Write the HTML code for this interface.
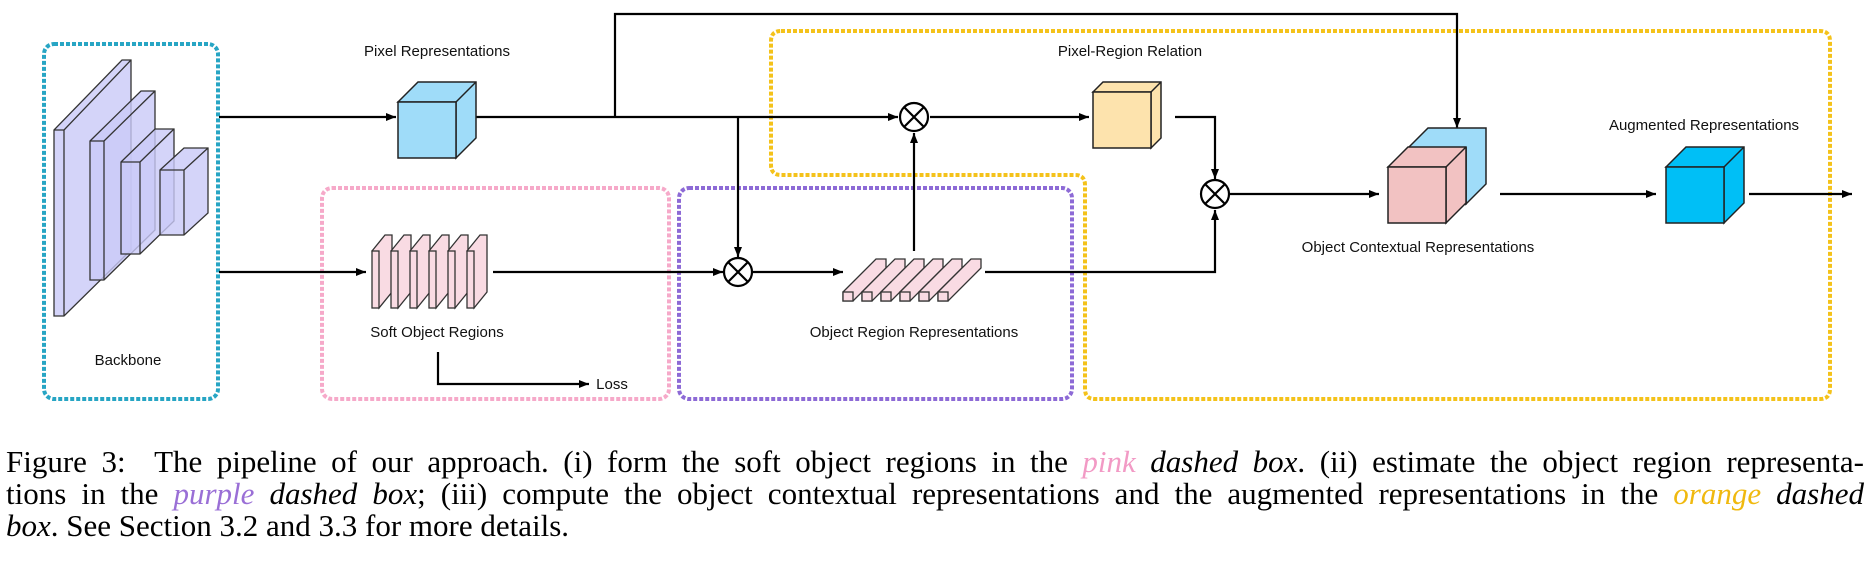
<!DOCTYPE html>
<html><head><meta charset="utf-8"><style>
html,body{margin:0;padding:0;background:#fff;width:1870px;height:579px;overflow:hidden}
svg{position:absolute;left:0;top:0}
.cap{position:absolute;left:6px;width:1858px;font-family:"Liberation Serif",serif;font-size:31px;line-height:32px;color:#000;white-space:nowrap}
.j{text-align:justify;text-align-last:justify}
</style></head><body>
<svg width="1870" height="440" viewBox="0 0 1870 440" font-family="Liberation Sans, sans-serif" font-size="15" fill="#111">
<defs><marker id="a" markerWidth="10" markerHeight="8" refX="10" refY="4" orient="auto" markerUnits="userSpaceOnUse"><path d="M0,0L10,4L0,8z" fill="#000"/></marker></defs>
<g fill="none" stroke-width="4" stroke-dasharray="4 2">
<rect x="44" y="44" width="174" height="355" rx="10" stroke="#27a5c4"/>
<rect x="322" y="188" width="347" height="211" rx="10" stroke="#f6a9c9"/>
<rect x="679" y="188" width="393" height="211" rx="10" stroke="#8d6ad6"/>
<path d="M781,31H1820Q1830,31 1830,41V389Q1830,399 1820,399H1095Q1085,399 1085,389V185Q1085,175 1075,175H781Q771,175 771,165V41Q771,31 781,31Z" stroke="#f4c21a"/>
</g>
<g stroke="#333" stroke-width="1.3" fill="#c9c9f7" fill-opacity="0.8">
<path d="M54,130L122,60H131V250L64,316H54Z"/><path d="M64,130L131,60M64,130V316M54,130H64"/>
<path d="M90,141L141,91H155V230L104,280H90Z"/><path d="M104,141L155,91M104,141V280M90,141H104"/>
<path d="M121,162L155,129H174V221L140,254H121Z"/><path d="M140,162L174,129M140,162V254M121,162H140"/>
<path d="M160,170L184,148H208V213L184,235H160Z"/><path d="M184,170L208,148M184,170V235M160,170H184"/>
</g>
<g stroke="#000" stroke-width="2.2" fill="none">
<path d="M219,117H396" marker-end="url(#a)"/>
<path d="M456,117H898" marker-end="url(#a)"/>
<path d="M615,117V14H1457V128" marker-end="url(#a)"/>
<path d="M738,117V257" marker-end="url(#a)"/>
<path d="M219,272H366" marker-end="url(#a)"/>
<path d="M493,272H723" marker-end="url(#a)"/>
<path d="M753,272H843" marker-end="url(#a)"/>
<path d="M914,251V133" marker-end="url(#a)"/>
<path d="M930,117H1089" marker-end="url(#a)"/>
<path d="M1175,117H1215V179" marker-end="url(#a)"/>
<path d="M985,272H1215V210" marker-end="url(#a)"/>
<path d="M1230,194H1379" marker-end="url(#a)"/>
<path d="M1500,194H1656" marker-end="url(#a)"/>
<path d="M1749,194H1852" marker-end="url(#a)"/>
<path d="M438,352V384H589" marker-end="url(#a)"/>
</g>
<g stroke="#000" stroke-width="2.2" fill="#fff">
<circle cx="914" cy="117" r="14"/><path d="M904,107L924,127M924,107L904,127"/>
<circle cx="738" cy="272" r="14"/><path d="M728,262L748,282M748,262L728,282"/>
<circle cx="1215" cy="194" r="14"/><path d="M1205,184L1225,204M1225,184L1205,204"/>
</g>
<g stroke="#222" stroke-width="1.5">
<path d="M398,102L418,82H476V138L456,158V102Z" fill="#9fdcf9"/><rect x="398" y="102" width="58" height="56" fill="#9fdcf9"/><path d="M456,102L476,82" fill="none"/>
<path d="M1093,92L1103,82H1161V138L1151,148V92Z" fill="#fde3ad"/><rect x="1093" y="92" width="58" height="56" fill="#fde3ad"/><path d="M1151,92L1161,82" fill="none"/>
<path d="M1408,148L1428,128H1486V184L1466,204V148Z" fill="#9fdcf9"/><rect x="1408" y="148" width="58" height="56" fill="#9fdcf9"/>
<path d="M1388,167L1408,147H1466V203L1446,223V167Z" fill="#f2c2c2"/><rect x="1388" y="167" width="58" height="56" fill="#f2c2c2"/><path d="M1446,167L1466,147" fill="none"/>
<path d="M1666,167L1686,147H1744V203L1724,223V167Z" fill="#00bff6"/><rect x="1666" y="167" width="58" height="56" fill="#00bff6"/><path d="M1724,167L1744,147" fill="none"/>
</g>
<g stroke="#333" stroke-width="1.3" fill="#f9dbe3">
<path d="M372,251L385,235H392V292L379,308Z"/><rect x="372" y="251" width="7" height="57"/>
<path d="M391,251L404,235H411V292L398,308Z"/><rect x="391" y="251" width="7" height="57"/>
<path d="M410,251L423,235H430V292L417,308Z"/><rect x="410" y="251" width="7" height="57"/>
<path d="M429,251L442,235H449V292L436,308Z"/><rect x="429" y="251" width="7" height="57"/>
<path d="M448,251L461,235H468V292L455,308Z"/><rect x="448" y="251" width="7" height="57"/>
<path d="M467,251L480,235H487V292L474,308Z"/><rect x="467" y="251" width="7" height="57"/>
</g>
<g stroke="#333" stroke-width="1.3" fill="#f9dbe3">
<path d="M843,292L876,259H886V268L853,301H843Z"/><rect x="843" y="292" width="10" height="9"/>
<path d="M862,292L895,259H905V268L872,301H862Z"/><rect x="862" y="292" width="10" height="9"/>
<path d="M881,292L914,259H924V268L891,301H881Z"/><rect x="881" y="292" width="10" height="9"/>
<path d="M900,292L933,259H943V268L910,301H900Z"/><rect x="900" y="292" width="10" height="9"/>
<path d="M919,292L952,259H962V268L929,301H919Z"/><rect x="919" y="292" width="10" height="9"/>
<path d="M938,292L971,259H981V268L948,301H938Z"/><rect x="938" y="292" width="10" height="9"/>
</g>
<g text-anchor="middle">
<text x="437" y="56">Pixel Representations</text>
<text x="1130" y="56">Pixel-Region Relation</text>
<text x="1704" y="130">Augmented Representations</text>
<text x="1418" y="252">Object Contextual Representations</text>
<text x="128" y="365">Backbone</text>
<text x="437" y="337">Soft Object Regions</text>
<text x="914" y="337">Object Region Representations</text>
<text x="612" y="389">Loss</text>
</g>
</svg>
<div class="cap j" style="top:446px">Figure 3:&nbsp; The pipeline of our approach. (i) form the soft object regions in the <i style="color:#f29ac5">pink</i> <i>dashed box</i>. (ii) estimate the object region representa-</div>
<div class="cap j" style="top:478px">tions in the <i style="color:#9a6fd6">purple</i> <i>dashed box</i>; (iii) compute the object contextual representations and the augmented representations in the <i style="color:#f0b90f">orange</i> <i>dashed</i></div>
<div class="cap" style="top:510px"><i>box</i>. See Section 3.2 and 3.3 for more details.</div>
</body></html>
